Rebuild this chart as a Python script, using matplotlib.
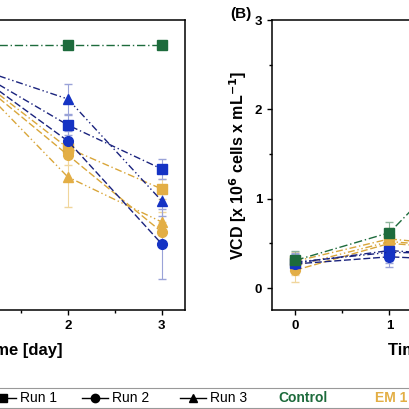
import matplotlib
matplotlib.use("Agg")
import matplotlib.pyplot as plt
from matplotlib.lines import Line2D

plt.rcParams['font.family'] = ['Liberation Sans', 'DejaVu Sans']
plt.rcParams['font.weight'] = 'bold'

days = [0, 1, 2, 3]
# Panel A (viability %)
via = {
    'ctrl': [100, 100, 100, 100],
    'b_sq': [98, 95, 84.0, 75.2],
    'b_ci': [98, 94.5, 80.8, 60.2],
    'b_tr': [98, 95.5, 89.2, 68.8],
    'y_sq': [98, 94, 79.4, 71.2],
    'y_ci': [98, 93.5, 78.0, 62.6],
    'y_tr': [98, 93, 73.6, 64.6],
}
via_err = {
    'ctrl': [0.3, 0.3, 0.3, 0.3],
    'b_sq': [1, 1, 2, 2],
    'b_ci': [1, 1, 2, 7],
    'b_tr': [1, 1, 3, 3],
    'y_sq': [1, 1, 2, 2],
    'y_ci': [1, 1, 2, 2],
    'y_tr': [1, 1, 6, 2],
}
# Panel B (VCD)
vcd = {
    'ctrl': [0.31, 0.62, 1.7, 2.4],
    'b_sq': [0.28, 0.42, 0.35, 0.3],
    'b_ci': [0.27, 0.35, 0.3, 0.25],
    'b_tr': [0.29, 0.40, 0.38, 0.33],
    'y_sq': [0.30, 0.55, 0.45, 0.4],
    'y_ci': [0.20, 0.50, 0.42, 0.38],
    'y_tr': [0.25, 0.52, 0.44, 0.39],
}
vcd_err = {k: [0.1, 0.12, 0.08, 0.08] for k in vcd}
vcd_err['y_ci'] = [0.13, 0.1, 0.08, 0.08]

style = {
    'ctrl': dict(color='#1d6b3c', mfc='#1d6b3c', marker='s', ls=(0, (6, 2, 1, 2)), ecol='#8fb59c'),
    'b_sq': dict(color='#1a237e', mfc='#1533c4', marker='s', ls=(0, (5, 2, 1, 2)), ecol='#9aa3d8'),
    'b_ci': dict(color='#1a237e', mfc='#1533c4', marker='o', ls=(0, (5, 2)), ecol='#9aa3d8'),
    'b_tr': dict(color='#1a237e', mfc='#1533c4', marker='^', ls=(0, (5, 2, 1, 2, 1, 2)), ecol='#9aa3d8'),
    'y_sq': dict(color='#d9a63a', mfc='#e3ae45', marker='s', ls=(0, (5, 2, 1, 2)), ecol='#f0d69c'),
    'y_ci': dict(color='#d9a63a', mfc='#e3ae45', marker='o', ls=(0, (5, 2)), ecol='#f0d69c'),
    'y_tr': dict(color='#d9a63a', mfc='#e3ae45', marker='^', ls=(0, (5, 2, 1, 2, 1, 2)), ecol='#f0d69c'),
}
order = ['y_sq', 'y_ci', 'y_tr', 'b_sq', 'b_ci', 'b_tr', 'ctrl']

fig = plt.figure(figsize=(4.09, 4.09), dpi=100)
axA = fig.add_axes([-0.351, 0.242, 0.803, 0.709])
axB = fig.add_axes([0.665, 0.242, 0.803, 0.709])

def draw(ax, data, err):
    for k in order:
        s = style[k]
        ax.errorbar(days, data[k], yerr=err[k], color=s['color'], ls=s['ls'], lw=1.0,
                    marker=s['marker'], ms=7, mfc=s['mfc'], mec=s['mfc'],
                    ecolor=s['ecol'], elinewidth=0.8, capsize=3)
    ax.set_xlim(-0.25, 3.245)
    ax.set_xticks(days)
    ax.set_xticks([0.5, 1.5, 2.5], minor=True)
    ax.tick_params(direction='out', labelsize=9.5, width=1)
    ax.tick_params(which='minor', direction='out', width=1, length=2.5)
    for sp in ax.spines.values():
        sp.set_linewidth(1.1)
    for lab in ax.get_xticklabels() + ax.get_yticklabels():
        lab.set_fontweight('bold')

draw(axA, via, via_err)
axA.set_ylim(47, 105)
draw(axB, vcd, vcd_err)
axB.set_ylim(-0.246, 3)
axB.set_yticks([0, 1, 2, 3])
axB.set_yticks([0.5, 1.5, 2.5], minor=True)
axB.set_ylabel('VCD [x 10$^\\mathbf{6}$ cells x mL$^\\mathbf{-1}$]', fontsize=11.5, fontweight='bold', labelpad=4)
for lab in axB.get_yticklabels():
    lab.set_fontweight('bold')

fig.text(62/409, 1 - 351/409, 'Time [day]', ha='right', va='center', fontsize=12, fontweight='bold')
fig.text(388/409, 1 - 351/409, 'Time [day]', ha='left', va='center', fontsize=12, fontweight='bold')
fig.text(230/409, 1 - 14/409, '(B)', ha='left', va='center', fontsize=11, fontweight='bold')

# legend strip
fig.add_artist(Line2D([0, 1], [1 - 388/409] * 2, color='#999999', lw=0.8))
fig.add_artist(Line2D([0, 1], [1 - 408/409] * 2, color='#999999', lw=0.8))
yl = 1 - 398/409
for x0, mk, lab in [(-10, 's', 'Run 1'), (82, 'o', 'Run 2'), (180, '^', 'Run 3')]:
    fig.add_artist(Line2D([x0/409, (x0+26)/409], [yl, yl], color='k', lw=1))
    fig.add_artist(Line2D([(x0+13)/409], [yl], color='k', marker=mk, ms=6))
    fig.text((x0+30)/409, yl, lab, ha='left', va='center', fontsize=10, fontweight='normal')
fig.text(278/409, yl, 'Control', ha='left', va='center', fontsize=10, fontweight='bold', color='#1d6b3c')
fig.text(375/409, yl, 'EM 1', ha='left', va='center', fontsize=10, fontweight='bold', color='#e3ae45')

fig.savefig('out.png', dpi=100)
